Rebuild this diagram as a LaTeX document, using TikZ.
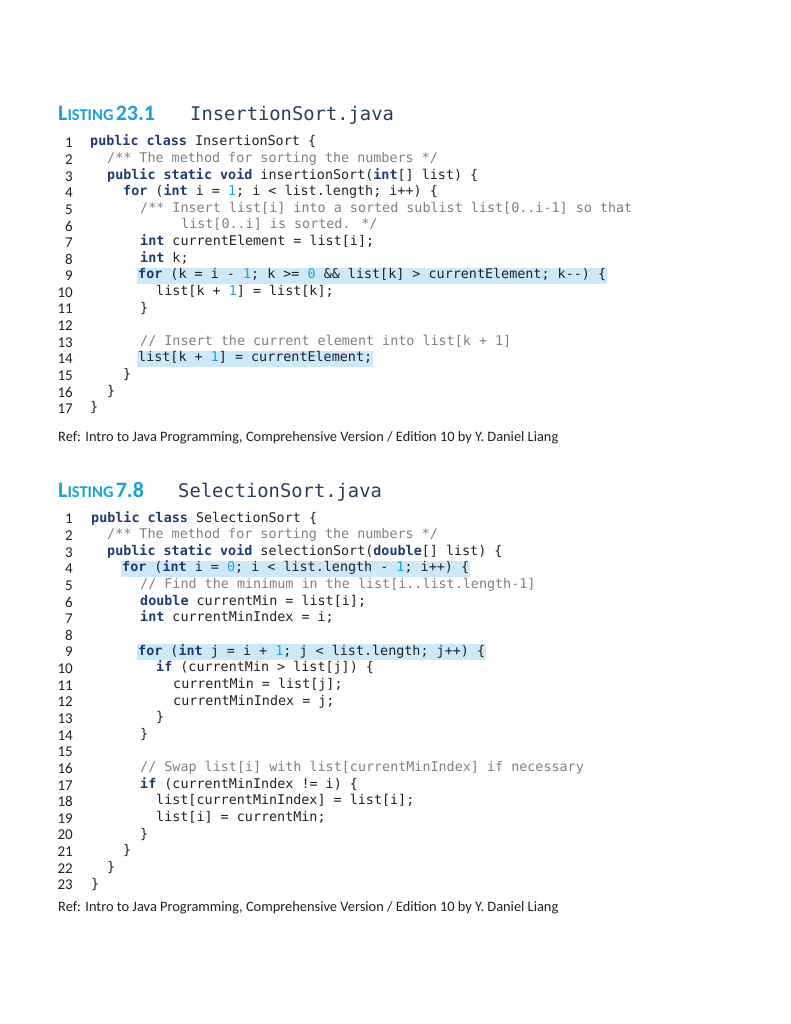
\documentclass[tikz,border=0pt]{standalone}
\usepackage{fontspec}
\setmainfont{Carlito}
\newfontfamily\codefont[Ligatures={}]{DejaVu Sans Mono}
\definecolor{kwc}{HTML}{1F3A6E}
\definecolor{txc}{HTML}{222222}
\definecolor{cmc}{HTML}{808080}
\definecolor{nmc}{HTML}{1AA3D9}
\definecolor{hlc}{HTML}{CDE8F6}
\definecolor{ttc}{HTML}{1CA0DC}
\definecolor{fnc}{HTML}{2A3F5A}
\newcommand{\K}[1]{\textcolor{kwc}{\bfseries #1}}
\newcommand{\C}[1]{\textcolor{cmc}{#1}}
\newcommand{\N}[1]{\textcolor{nmc}{#1}}
\tikzset{
  code/.style={anchor=west,inner xsep=1pt,inner ysep=1pt,text height=10pt,text depth=4pt,
    font=\codefont\fontsize{13.4}{16}\selectfont,text=txc},
  hl/.style={code,fill=hlc},
  lnum/.style={anchor=east,inner sep=0pt,font=\fontsize{15}{16}\selectfont,text=txc},
  ttl/.style={anchor=base west,inner sep=0pt,text=ttc,font=\bfseries},
  fname/.style={anchor=base west,inner sep=0pt,text=fnc,font=\codefont\fontsize{18.8}{20}\selectfont},
  refl/.style={anchor=west,inner sep=0pt,text=txc,font=\fontsize{14.4}{16}\selectfont}
}
\begin{document}
\begin{tikzpicture}[x=1pt,y=-1pt]
\useasboundingbox[fill=white] (0,0) rectangle (791,1024);
% ---------- Listing 23.1
\node[ttl] (t1title) at (58,121) {{\fontsize{22}{22}\selectfont L}{\fontsize{16.5}{17}\selectfont ISTING} {\fontsize{22}{22}\selectfont 23.1}};
\node[fname] (t1name) at (190,121) {InsertionSort.java};
\foreach \i in {1,...,17} \node[lnum] (ta\i) at (73,{143+16.6*(\i-1)}) {\i};
\node[code] (t1) at (89,{143+16.6*0}) {\K{public class} InsertionSort \{};
\node[code] (t2) at (106,{143+16.6*1}) {\C{/** The method for sorting the numbers */}};
\node[code] (t3) at (106,{143+16.6*2}) {\K{public static void} insertionSort(\K{int}[] list) \{};
\node[code] (t4) at (122,{143+16.6*3}) {\K{for} (\K{int} i = \N{1}; i < list.length; i++) \{};
\node[code] (t5) at (139,{143+16.6*4}) {\C{/** Insert list[i] into a sorted sublist list[0..i-1] so that}};
\node[code] (t6) at (180,{143+16.6*5}) {\C{list[0..i] is sorted. */}};
\node[code] (t7) at (139,{143+16.6*6}) {\K{int} currentElement = list[i];};
\node[code] (t8) at (139,{143+16.6*7}) {\K{int} k;};
\node[hl] (t9) at (137,{143+16.6*8}) {\K{for} (k = i - \N{1}; k >= \N{0} \&\& list[k] > currentElement; k-{}-) \{};
\node[code] (t10) at (155,{143+16.6*9}) {list[k + \N{1}] = list[k];};
\node[code] (t11) at (139,{143+16.6*10}) {\}};
\node[code] (t13) at (139,{143+16.6*12}) {\C{// Insert the current element into list[k + 1]}};
\node[hl] (t14) at (137,{143+16.6*13}) {list[k + \N{1}] = currentElement;};
\node[code] (t15) at (122,{143+16.6*14}) {\}};
\node[code] (t16) at (106,{143+16.6*15}) {\}};
\node[code] (t17) at (89,{143+16.6*16}) {\}};
\node[refl] (ref1) at (58,438) {Ref: Intro to Java Programming, Comprehensive Version / Edition 10 by Y. Daniel Liang};
% ---------- Listing 7.8
\node[ttl] (t2title) at (58,497) {{\fontsize{22}{22}\selectfont L}{\fontsize{16.5}{17}\selectfont ISTING} {\fontsize{22}{22}\selectfont 7.8}};
\node[fname] (t2name) at (178,497) {SelectionSort.java};
\foreach \i in {1,...,23} \node[lnum] (sa\i) at (73,{519+16.64*(\i-1)}) {\i};
\node[code] (s1) at (90,{519+16.64*0}) {\K{public class} SelectionSort \{};
\node[code] (s2) at (106,{519+16.64*1}) {\C{/** The method for sorting the numbers */}};
\node[code] (s3) at (106,{519+16.64*2}) {\K{public static void} selectionSort(\K{double}[] list) \{};
\node[hl] (s4) at (121,{519+16.64*3}) {\K{for} (\K{int} i = \N{0}; i < list.length - \N{1}; i++) \{};
\node[code] (s5) at (139,{519+16.64*4}) {\C{// Find the minimum in the list[i..list.length-1]}};
\node[code] (s6) at (139,{519+16.64*5}) {\K{double} currentMin = list[i];};
\node[code] (s7) at (139,{519+16.64*6}) {\K{int} currentMinIndex = i;};
\node[hl] (s9) at (137,{519+16.64*8}) {\K{for} (\K{int} j = i + \N{1}; j < list.length; j++) \{};
\node[code] (s10) at (155,{519+16.64*9}) {\K{if} (currentMin > list[j]) \{};
\node[code] (s11) at (172,{519+16.64*10}) {currentMin = list[j];};
\node[code] (s12) at (172,{519+16.64*11}) {currentMinIndex = j;};
\node[code] (s13) at (155,{519+16.64*12}) {\}};
\node[code] (s14) at (139,{519+16.64*13}) {\}};
\node[code] (s16) at (139,{519+16.64*15}) {\C{// Swap list[i] with list[currentMinIndex] if necessary}};
\node[code] (s17) at (139,{519+16.64*16}) {\K{if} (currentMinIndex != i) \{};
\node[code] (s18) at (155,{519+16.64*17}) {list[currentMinIndex] = list[i];};
\node[code] (s19) at (155,{519+16.64*18}) {list[i] = currentMin;};
\node[code] (s20) at (139,{519+16.64*19}) {\}};
\node[code] (s21) at (122,{519+16.64*20}) {\}};
\node[code] (s22) at (106,{519+16.64*21}) {\}};
\node[code] (s23) at (90,{519+16.64*22}) {\}};
\node[refl] (ref2) at (58,908) {Ref: Intro to Java Programming, Comprehensive Version / Edition 10 by Y. Daniel Liang};
\end{tikzpicture}
\end{document}
